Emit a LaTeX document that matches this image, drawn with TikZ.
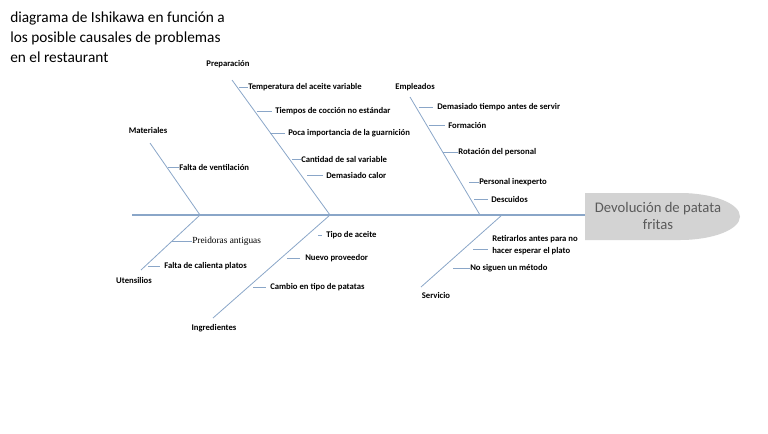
\documentclass[tikz,border=0pt]{standalone}
\usepackage{fontspec}
\setmainfont{Carlito}
\newfontfamily\serfont{Liberation Serif}
\definecolor{bone}{HTML}{8AA6C8}
\definecolor{headgray}{HTML}{D3D3D3}
\definecolor{headtxt}{HTML}{5A5A5A}
\begin{document}
\begin{tikzpicture}[x=0.75pt,y=-0.75pt,
  bn/.style={draw=bone,line width=0.6pt},
  lab/.style={font=\fontsize{6.5}{7.5}\selectfont\bfseries,inner sep=0pt,anchor=west},
  cat/.style={font=\fontsize{6.5}{7.5}\selectfont\bfseries,inner sep=0pt}]
\useasboundingbox (0,0) rectangle (768,433);
\node[anchor=north west,align=left,inner sep=0pt,font=\fontsize{11.5}{15}\selectfont] (title) at (10,12) {diagrama de Ishikawa en función a\\los posible causales de problemas\\en el restaurant};
% head
\fill[headgray] (585,193) -- (680,193) arc[start angle=-90,end angle=90,x radius=60,y radius=23.5] -- (585,240) -- cycle;
\node[align=center,text=headtxt,font=\fontsize{11}{13}\selectfont,inner sep=0pt] (head) at (658,216) {Devolución de patata\\fritas};
% spine
\coordinate (s0) at (132,215); \coordinate (s1) at (585,215);
\draw[bn,line width=1pt] (s0) -- (s1);
% categories
\node[cat] (mat) at (148,130) {Materiales};
\node[cat] (pre) at (228,64) {Preparación};
\node[cat] (emp) at (415,87) {Empleados};
\node[cat] (ute) at (134,280) {Utensilios};
\node[cat] (ing) at (214,328) {Ingredientes};
\node[cat] (ser) at (436,295) {Servicio};
\coordinate (j1) at (200,215); \coordinate (j2) at (330,215);
\coordinate (j3) at (480,215); \coordinate (j4) at (502,215);
\draw[bn] (150,143) coordinate (m0) -- (j1);
\draw[bn] (232,80) coordinate (p0) -- (j2);
\draw[bn] (410,97) coordinate (e0) -- (j3);
\draw[bn] (141,270) coordinate (u0) -- (j1);
\draw[bn] (213,318) coordinate (i0) -- (j2);
\draw[bn] (421,287) coordinate (v0) -- (j4);
% causes
\node[lab] (c1) at (179,167) {Falta de ventilación}; \draw[bn] (168,167) -- (c1.west);
\node[lab] (c2) at (248,87) {Temperatura del aceite variable}; \draw[bn] (239,87) -- (c2.west);
\node[lab] (c3) at (275,111) {Tiempos de cocción no estándar}; \draw[bn] (257,111) -- (272,111);
\node[lab] (c4) at (288,133) {Poca importancia de la guarnición}; \draw[bn] (270,133) -- (285,133);
\node[lab] (c5) at (301,159) {Cantidad de sal variable}; \draw[bn] (292,159) -- (c5.west);
\node[lab] (c6) at (326,175) {Demasiado calor}; \draw[bn] (307,175) -- (323,175);
\node[lab] (c7) at (437,107) {Demasiado tiempo antes de servir}; \draw[bn] (419,107) -- (433,107);
\node[lab] (c8) at (448,125) {Formación}; \draw[bn] (429,125) -- (445,125);
\node[lab] (c9) at (458,152) {Rotación del personal}; \draw[bn] (443,152) -- (c9.west);
\node[lab] (c10) at (479,182) {Personal inexperto}; \draw[bn] (469,182) -- (c10.west);
\node[lab] (c11) at (491,199) {Descuidos}; \draw[bn] (474,199) -- (488,199);
\node[lab,font=\serfont\fontsize{7}{8}\selectfont] (c12) at (192,241) {Preidoras antiguas}; \draw[bn] (172,241) -- (c12.west);
\node[lab] (c13) at (164,266) {Falta de calienta platos}; \draw[bn] (148,266) -- (160,266);
\node[lab] (c14) at (326,235) {Tipo de aceite}; \draw[bn] (318,235) -- (322,235);
\node[lab] (c15) at (305,258) {Nuevo proveedor}; \draw[bn] (287,258) -- (300,258);
\node[lab] (c16) at (270,287) {Cambio en tipo de patatas}; \draw[bn] (253,287) -- (266,287);
\node[lab,align=left,font=\fontsize{6.5}{8.5}\selectfont\bfseries] (c17) at (492,245) {Retirarlos antes para no\\hacer esperar el plato}; \draw[bn] (473,249) -- (488,249);
\node[lab] (c18) at (470,268) {No siguen un método}; \draw[bn] (453,268) -- (c18.west);
\end{tikzpicture}
\end{document}
